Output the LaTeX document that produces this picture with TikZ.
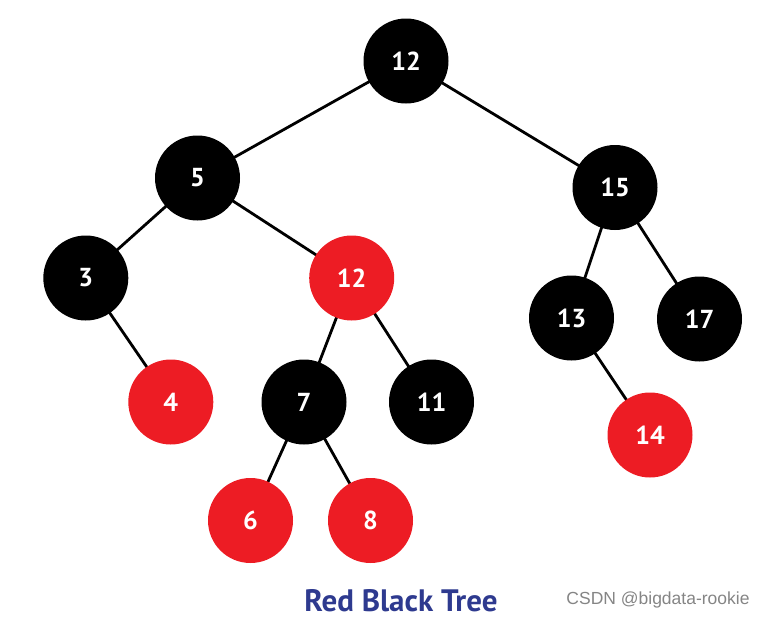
\documentclass[tikz,border=0pt]{standalone}
\usepackage{fontspec}
\setmainfont{PT Sans}
\newfontfamily\wmfont{Liberation Sans}
\definecolor{rbred}{HTML}{ED1C24}
\definecolor{rbblue}{HTML}{2E3A8F}
\definecolor{wmgrey}{HTML}{858585}
\begin{document}
\begin{tikzpicture}[x=1pt,y=-1pt,
  rbnode/.style={circle,minimum size=85pt,inner sep=0pt,text=white,font=\bfseries\fontsize{26}{30}\selectfont},
  blacknode/.style={rbnode,fill=black},
  rednode/.style={rbnode,fill=rbred},
  edge/.style={line width=2.8pt,black}]
\useasboundingbox (0,0) rectangle (771,621);
\coordinate (p12) at (406,61);
\coordinate (p5) at (197.5,178);
\coordinate (p15) at (615,187.5);
\coordinate (p3) at (85.8,278);
\coordinate (p12r) at (351.7,278);
\coordinate (p13) at (571.5,318);
\coordinate (p17) at (699.5,319);
\coordinate (p4) at (170.8,402);
\coordinate (p7) at (304,402);
\coordinate (p11) at (431.5,402);
\coordinate (p14) at (650,435);
\coordinate (p6) at (250.5,520.5);
\coordinate (p8) at (370.5,520.5);
\draw[edge] (p12) -- (p5);
\draw[edge] (p12) -- (p15);
\draw[edge] (p5) -- (p3);
\draw[edge] (p5) -- (p12r);
\draw[edge] (p3) -- (p4);
\draw[edge] (p12r) -- (p7);
\draw[edge] (p12r) -- (p11);
\draw[edge] (p7) -- (p6);
\draw[edge] (p7) -- (p8);
\draw[edge] (p15) -- (p13);
\draw[edge] (p15) -- (p17);
\draw[edge] (p13) -- (p14);
\node[blacknode] (n12) at (p12) {12};
\node[blacknode] (n5) at (p5) {5};
\node[blacknode] (n15) at (p15) {15};
\node[blacknode] (n3) at (p3) {3};
\node[rednode] (n12r) at (p12r) {12};
\node[blacknode] (n13) at (p13) {13};
\node[blacknode] (n17) at (p17) {17};
\node[rednode] (n4) at (p4) {4};
\node[blacknode] (n7) at (p7) {7};
\node[blacknode] (n11) at (p11) {11};
\node[rednode] (n14) at (p14) {14};
\node[rednode] (n6) at (p6) {6};
\node[rednode] (n8) at (p8) {8};
\node[text=rbblue,font=\bfseries\fontsize{31}{35}\selectfont] (title) at (401,601) {Red Black Tree};
\node[text=wmgrey,font=\wmfont\fontsize{17.5}{20}\selectfont] (wm) at (658,600) {CSDN @bigdata-rookie};
\end{tikzpicture}
\end{document}
